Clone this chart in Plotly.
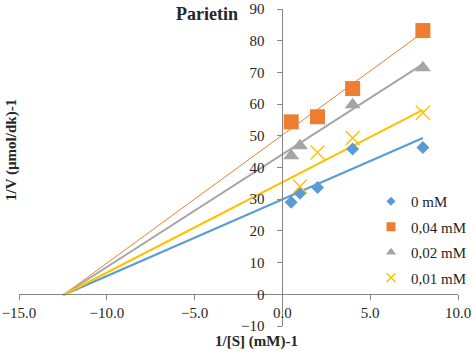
import plotly.graph_objects as go

# ---- data ----
series_names = ["0 mM", "0,04 mM", "0,02 mM", "0,01 mM"]
x_0mM = [0.5, 1, 2, 4, 8]
y_0mM = [29.0, 31.9, 33.7, 45.8, 46.3]
x_004mM = [0.5, 2, 4, 8]
y_004mM = [54.4, 56.0, 64.9, 83.2]
x_002mM = [0.5, 1, 4, 8]
y_002mM = [43.7, 46.9, 59.8, 71.5]
x_001mM = [1, 2, 4, 8]
y_001mM = [34.0, 44.7, 49.3, 57.3]

# trendlines (Excel linear, backward forecast) : value at x start and x end
trend_x = [-12.5, 8]
trend_start = [-0.3, -0.3, -0.3, -0.3]
trend_end = [49.3, 82.6, 72.6, 58.2]

x_ticks = [-15, -10, -5, 0, 5, 10]
y_ticks = [-10, 0, 10, 20, 30, 40, 50, 60, 70, 80, 90]

colors = ["#5B9BD5", "#ED7D31", "#A5A5A5", "#FFC000"]
symbols = ["diamond", "square", "triangle-up", "x-thin-open"]
sizes = [10, 15, 14, 14]
legend_sizes = [7, 9, 9, 9]
line_widths = [2, 1, 2, 2]

xs = [x_0mM, x_004mM, x_002mM, x_001mM]
ys = [y_0mM, y_004mM, y_002mM, y_001mM]

FONT = "Liberation Serif"
TXT = "#262626"
fig = go.Figure()


def make_marker(i, size):
    m = dict(color=colors[i], size=size, symbol=symbols[i])
    if symbols[i].startswith("x"):
        m["line"] = dict(color=colors[i], width=1.4)
    else:
        m["line"] = dict(width=0)
    return m


for i in range(4):
    fig.add_trace(go.Scatter(
        x=trend_x, y=[trend_start[i], trend_end[i]], mode="lines",
        line=dict(color=colors[i], width=line_widths[i]),
        showlegend=False, hoverinfo="skip"))

for i in range(4):
    fig.add_trace(go.Scatter(
        x=xs[i], y=ys[i], mode="markers", name=series_names[i],
        marker=make_marker(i, sizes[i]), showlegend=False))

# legend entries (small symbols as in the reference legend)
for i in range(4):
    fig.add_trace(go.Scatter(
        x=[None], y=[None], mode="markers", name=series_names[i],
        marker=make_marker(i, legend_sizes[i]), legendgroup=series_names[i],
        showlegend=True))

L, R, T, B = 19, 16, 9, 30
W, H = 474, 356
pw, ph = W - L - R, H - T - B


def px_x(p):
    return (p - L) / pw


def px_y(p):
    return (H - B - p) / ph


axis_color = "#868686"
fig.update_layout(
    width=W, height=H,
    margin=dict(l=L, r=R, t=T, b=B, autoexpand=False),
    paper_bgcolor="white", plot_bgcolor="white",
    font=dict(family=FONT, size=15, color=TXT),
    title=dict(text="<b>Parietin</b>", x=207 / W, xref="container",
               y=1 - 14 / H, yref="container", xanchor="center", yanchor="middle",
               font=dict(family=FONT, size=18, color=TXT)),
    xaxis=dict(range=[-15, 10], tickvals=x_ticks, tickformat=".1f",
               showgrid=False, zeroline=False, showline=True,
               linecolor=axis_color, linewidth=1, ticks="outside",
               tickcolor=axis_color, ticklen=5, anchor="free",
               position=10 / 100, automargin=False,
               tickfont=dict(family=FONT, size=15, color=TXT)),
    yaxis=dict(range=[-10, 90], tickvals=y_ticks,
               showgrid=False, zeroline=False, showline=True,
               linecolor=axis_color, linewidth=1, ticks="outside",
               tickcolor=axis_color, ticklen=5, anchor="free",
               position=15 / 25, ticklabelstandoff=10, automargin=False,
               tickfont=dict(family=FONT, size=15, color=TXT)),
    legend=dict(x=px_x(371), y=px_y(185), xanchor="left", yanchor="top",
                bgcolor="rgba(0,0,0,0)", tracegroupgap=3,
                font=dict(family=FONT, size=15, color=TXT)),
    showlegend=True,
    annotations=[
        dict(text="<b>1/[S] (mM)-1</b>", xref="paper", yref="paper",
             x=px_x(256), y=px_y(342), xanchor="center", yanchor="middle",
             showarrow=False, font=dict(family=FONT, size=15, color=TXT)),
        dict(text="<b>1/V (µmol/dk)-1</b>", xref="paper", yref="paper",
             x=px_x(11), y=px_y(150), xanchor="center", yanchor="middle",
             showarrow=False, textangle=-90,
             font=dict(family=FONT, size=15, color=TXT)),
    ],
)

fig.write_html("out.html", config={"displayModeBar": False},
               post_script="document.body.style.margin='0';")
